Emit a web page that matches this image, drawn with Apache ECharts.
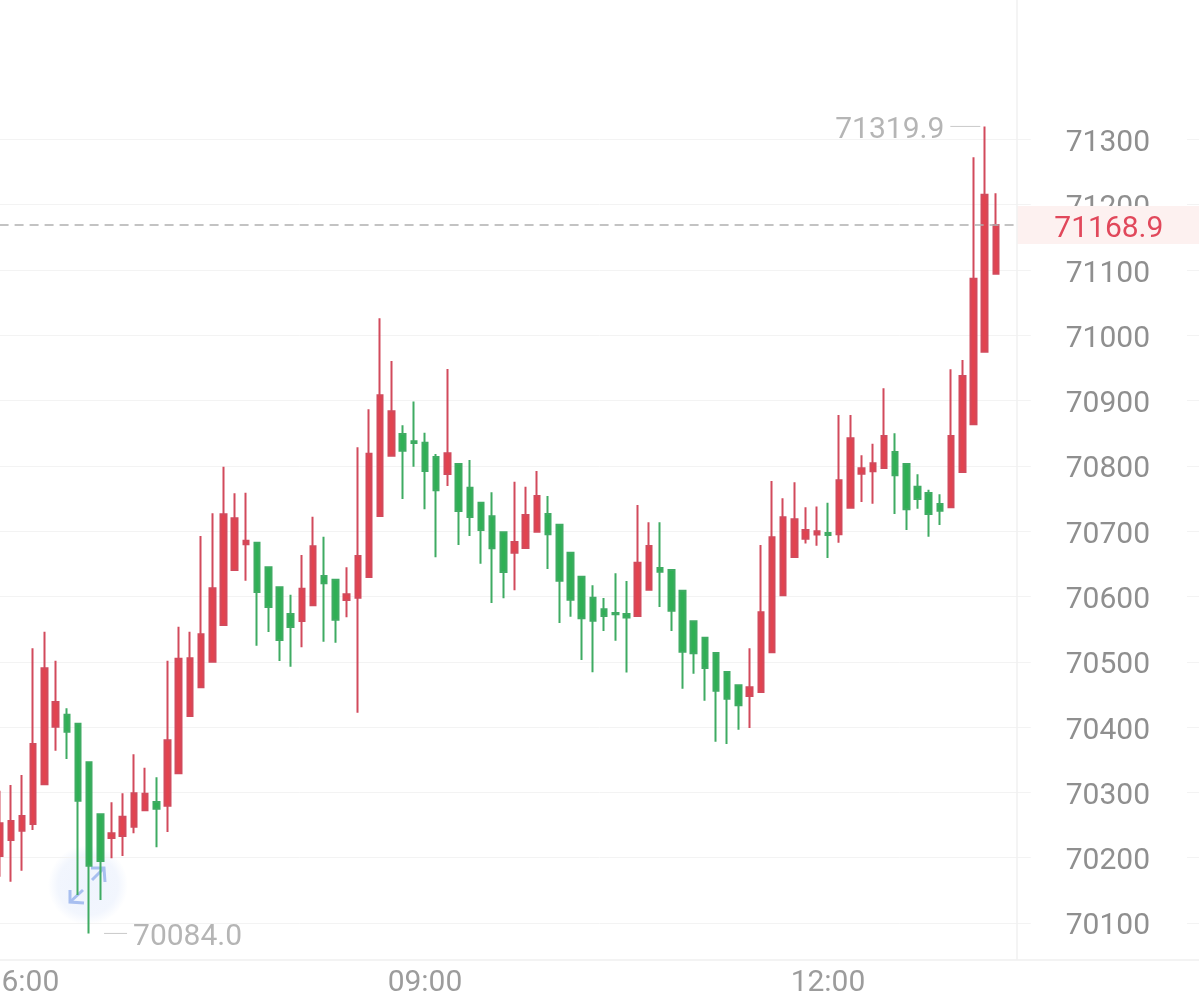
<!DOCTYPE html>
<html>
<head>
<meta charset="utf-8">
<style>html,body{margin:0;padding:0;background:#fff;overflow:hidden}#c{width:1199px;height:997px}</style>
<script src="https://cdn.jsdelivr.net/npm/echarts@6/dist/echarts.min.js"></script>
</head>
<body>
<div id="c"></div>
<script>
const categories = [
"05:50","05:55","06:00","06:05","06:10","06:15","06:20","06:25","06:30","06:35","06:40","06:45",
"06:50","06:55","07:00","07:05","07:10","07:15","07:20","07:25","07:30","07:35","07:40","07:45",
"07:50","07:55","08:00","08:05","08:10","08:15","08:20","08:25","08:30","08:35","08:40","08:45",
"08:50","08:55","09:00","09:05","09:10","09:15","09:20","09:25","09:30","09:35","09:40","09:45",
"09:50","09:55","10:00","10:05","10:10","10:15","10:20","10:25","10:30","10:35","10:40","10:45",
"10:50","10:55","11:00","11:05","11:10","11:15","11:20","11:25","11:30","11:35","11:40","11:45",
"11:50","11:55","12:00","12:05","12:10","12:15","12:20","12:25","12:30","12:35","12:40","12:45",
"12:50","12:55","13:00","13:05","13:10","13:15","13:20","13:25","13:30","13:35","13:40","13:45",
"13:50","13:55","14:00","14:05","14:10","14:15","14:20","14:25","14:30","14:35","14:40","14:45"];
const timeLabels = ["06:00","09:00","12:00"];
const priceTicks = [70100,70200,70300,70400,70500,70600,70700,70800,70900,71000,71100,71200,71300];
const opens = [70202.6,70227.1,70241.3,70251.6,70312.4,70400.6,70419,70405.2,70346.1,70266.5,
70230.2,70233.2,70247.5,70272.6,70285.3,70279.6,70329.2,70417,70461,70500.2,
70556.4,70640.6,70679.9,70682.4,70644.7,70614.1,70573.2,70562.5,70586.5,70631.4,
70625.7,70594.6,70598.2,70629.9,70723.3,70815.6,70848.9,70837.7,70835.5,70813.6,
70787.6,70802.9,70766.6,70743.6,70722.8,70698.3,70667.1,70674.3,70699.2,70726.3,
70710,70667.1,70630.3,70598.2,70580.4,70574.7,70573.2,70570.1,70610.4,70643.6,
70640.6,70608.9,70562,70536.9,70513.5,70484.4,70464,70447.6,70453.8,70514.6,
70601.8,70660.5,70688.5,70695,70697.2,70695.3,70736,70788,70791.7,70796.8,
70821.3,70802.9,70768.1,70758.5,70741.7,70736.6,70790.7,70863.7,70974.9,71094.3];
const closes = [70252.7,70256.2,70263.9,70374.1,70490,70438.4,70393,70287.3,70187.7,70194.9,
70237.4,70262.8,70298.6,70298,70275,70379.8,70504.7,70505.4,70542.1,70612.6,
70725.9,70719.8,70685.5,70606.9,70583.9,70533.4,70553.3,70612,70676.9,70620.2,
70564.5,70603.4,70662,70818.7,70908.1,70883.6,70823.3,70835.1,70792.2,70762.6,
70819.3,70730.9,70721.7,70701.8,70673.8,70637.5,70683.5,70724.8,70753.9,70695.3,
70624.2,70595.1,70566.6,70562.9,70570.1,70572.7,70567.8,70651.8,70677.3,70638,
70578.3,70515.5,70513,70490.5,70455.7,70443.5,70433.4,70461,70575.8,70690.7,
70721.3,70718.2,70701.8,70699.9,70694.2,70777.9,70842.3,70796.3,70804,70845.8,
70785.6,70733.5,70749.3,70726.3,70731.4,70845.8,70937.7,71086.7,71215.3,71168.9];
const lows = [70170.9,70163.2,70180.1,70242.4,70312.4,70363.9,70351.1,70142.9,70084,70135.2,
70199.1,70202.6,70237.4,70272.6,70215.9,70239.4,70329.2,70417,70461,70498.6,
70556.4,70640.6,70624.2,70524.7,70545.6,70501.2,70492.5,70522.2,70586.5,70530.8,
70529.3,70568.2,70422,70629.9,70723.3,70815.6,70749.3,70798.8,70733.5,70660,
70769.2,70678.9,70692.6,70650.2,70590,70597.2,70609.5,70674.3,70699.2,70642.1,
70559.4,70569.1,70502.8,70483.9,70547.2,70532.3,70483.6,70570.1,70610.4,70583.9,
70547.2,70458.8,70481.8,70440.4,70377.6,70374.1,70396,70398.6,70453.8,70514.6,
70601.8,70660.5,70681.2,70677.8,70659,70682.4,70736,70744.7,70742.1,70796.8,
70726.3,70701.8,70734.5,70691.6,70709.5,70736.6,70790.7,70863.7,70974.9,71094.3];
const highs = [70302.6,70311.3,70326.6,70520.7,70546.1,70501.7,70428.8,70405.2,70346.1,70266.5,
70284.8,70298.6,70358.3,70337.8,70323.1,70501.7,70553.8,70546.1,70692.6,70727.4,
70798.8,70758,70759,70682.4,70644.7,70614.1,70602.8,70663.6,70722.2,70691.6,
70625.7,70644.7,70828.5,70886.7,71026,70960.6,70862.2,70898.6,70850.8,70818.2,
70948.4,70802.9,70809,70743.6,70759.6,70698.3,70775.8,70768.1,70792.2,70753.9,
70710,70667.1,70630.3,70617.2,70597.7,70635.5,70623.7,70740.1,70713.6,70713.6,
70640.6,70608.9,70562,70536.9,70513.5,70484.4,70464,70520.7,70678.9,70776.9,
70750.4,70774.9,70736.8,70737.8,70743.6,70878,70878,70816.2,70834,70918.8,
70849.9,70802.9,70787.1,70763.6,70756.5,70947.9,70962.2,71272.6,71319.9,71217.5];
const lastPrice = closes[closes.length - 1];
const highestPrice = Math.max(...highs);
const lowestPrice = Math.min(...lows);
const candles = opens.map((o, i) => [o, closes[i], lows[i], highs[i]]);
const axisMin = 70043.3, axisMax = 71513.5;

const FONT = 'Roboto';
const chart = echarts.init(document.getElementById('c'), null, {renderer: 'canvas'});
chart.setOption({
  animation: false,
  backgroundColor: '#ffffff',
  grid: {left: -6, top: 0, width: 1209, height: 960, containLabel: false, outerBoundsMode: 'none'},
  xAxis: {
    type: 'category', data: categories, boundaryGap: true,
    axisLine: {show: true, lineStyle: {color: '#efefef', width: 1.5}},
    axisTick: {show: false},
    splitLine: {show: false},
    axisLabel: {
      color: '#9c9c9c', fontFamily: FONT, fontSize: 30, margin: 8, hideOverlap: false,
      interval: (i, v) => timeLabels.includes(v)
    }
  },
  yAxis: {
    type: 'value', position: 'right', min: axisMin, max: axisMax, scale: true,
    axisLine: {show: false},
    axisTick: {show: false, customValues: priceTicks},
    splitLine: {show: true, lineStyle: {color: '#f3f3f3', width: 1}},
    axisLabel: {
      inside: true, margin: 16, color: '#8f8f8f', fontFamily: FONT, fontSize: 30,
      customValues: priceTicks, backgroundColor: '#ffffff', padding: [0, 37, 0, 35],
      formatter: v => '{v|' + v + '}',
      rich: {v: {color: '#8f8f8f', fontFamily: FONT, fontSize: 30, padding: [8, 0, 0, 0]}},
      showMinLabel: true, showMaxLabel: true
    }
  },
  series: [{
    type: 'candlestick', data: candles, barWidth: 6,
    itemStyle: {color: '#e2434f', color0: '#2fb055', borderColor: '#d24a5c', borderColor0: '#3fab63', borderWidth: 2},
    markLine: {
      silent: true, symbol: 'none', animation: false,
      label: {show: false},
      data: [
        [{coord: [0, lastPrice], lineStyle: {color: '#b0b0b0', width: 1.5, type: [9, 6]}}, {coord: [91, lastPrice]}]
      ]
    },
    markPoint: {
      silent: true, animation: false,
      data: [
        {coord: [99, lastPrice], symbol: 'rect', symbolSize: [186, 38], symbolOffset: [2, 0],
          itemStyle: {color: '#fdf1f0'},
          label: {show: true, position: 'inside', offset: [-1, 4], formatter: () => lastPrice.toFixed(1), color: '#e1485b', fontFamily: FONT, fontSize: 30}},
        {coord: [91, (axisMin + axisMax) / 2], symbol: 'rect', symbolSize: [1.5, 960], symbolOffset: [-1.3, 0],
          itemStyle: {color: '#f1f1f1'}, label: {show: false}},
        {coord: [86, highestPrice], symbol: 'rect', symbolSize: [30, 1], symbolOffset: [3, 0],
          itemStyle: {color: '#c9c9c9'},
          label: {show: true, position: 'left', distance: 6, offset: [0, 4], formatter: () => highestPrice.toFixed(1), color: '#b5b5b5', fontFamily: FONT, fontSize: 30}},
        {coord: [10, lowestPrice], symbol: 'rect', symbolSize: [23, 1], symbolOffset: [4, 0],
          itemStyle: {color: '#c9c9c9'},
          label: {show: true, position: 'right', distance: 6, offset: [0, 4], formatter: () => lowestPrice.toFixed(1), color: '#b5b5b5', fontFamily: FONT, fontSize: 30}}
      ]
    }
  }],
  graphic: [{
    type: 'group', z: 100, silent: true,
    children: [
      {type: 'circle', shape: {cx: 88, cy: 885, r: 40}, style: {
        fill: new echarts.graphic.RadialGradient(0.5, 0.5, 0.5, [
          {offset: 0, color: 'rgba(205,220,250,0.32)'},
          {offset: 0.75, color: 'rgba(205,220,250,0.26)'},
          {offset: 1, color: 'rgba(205,220,250,0)'}])
      }},
      {type: 'polyline', shape: {points: [[70, 890], [70, 902], [84, 903]]}, style: {fill: null, stroke: '#a8bff0', lineWidth: 3}},
      {type: 'line', shape: {x1: 70, y1: 902, x2: 83, y2: 890}, style: {stroke: '#a8bff0', lineWidth: 3}},
      {type: 'polyline', shape: {points: [[91, 868], [104, 868], [105, 882]]}, style: {fill: null, stroke: '#a8bff0', lineWidth: 3}},
      {type: 'line', shape: {x1: 104, y1: 868, x2: 92, y2: 880}, style: {stroke: '#a8bff0', lineWidth: 3}}
    ]
  }]
});
</script>
</body>
</html>
